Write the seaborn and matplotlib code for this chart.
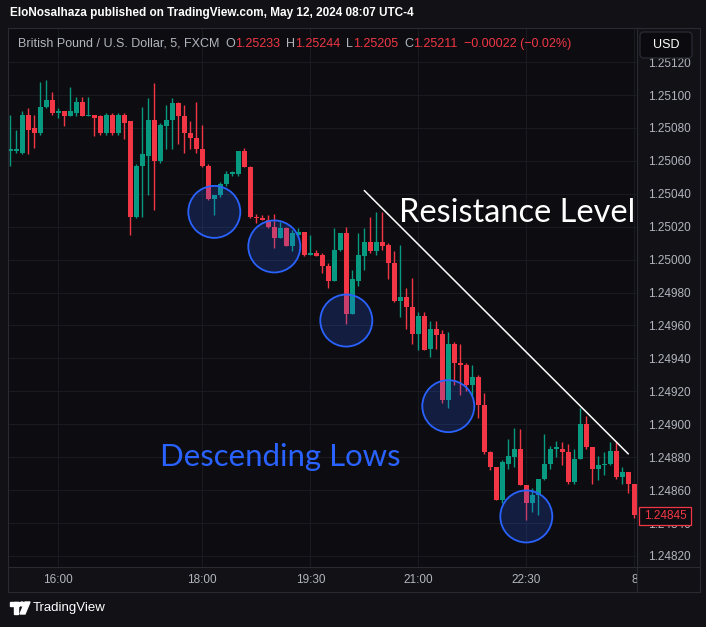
import numpy as np
import pandas as pd
import matplotlib
matplotlib.use("Agg")
import matplotlib.pyplot as plt
import seaborn as sns
from matplotlib.patches import Ellipse, FancyBboxPatch, Rectangle, Polygon, Circle
from matplotlib.lines import Line2D
from matplotlib.transforms import IdentityTransform

# ---------------- data (GBP/USD, 5 min candles) ----------------
opens = [
    1.25066, 1.25066, 1.25065, 1.25088, 1.25080, 1.25077, 1.25093, 1.25097, 1.25089, 1.25090,
    1.25087, 1.25089, 1.25096, 1.25087, 1.25088, 1.25087, 1.25077, 1.25088, 1.25077, 1.25088,
    1.25084, 1.25026, 1.25057, 1.25063, 1.25085, 1.25060, 1.25081, 1.25085, 1.25095, 1.25087,
    1.25077, 1.25074, 1.25067, 1.25057, 1.25037, 1.25039, 1.25046, 1.25052, 1.25052, 1.25066,
    1.25056, 1.25026, 1.25025, 1.25024, 1.25020, 1.25013, 1.25019, 1.25008, 1.25015, 1.25017,
    1.25003, 1.25004, 1.25003, 1.24996, 1.24987, 1.25006, 1.25016, 1.24967, 1.24987, 1.25002,
    1.25011, 1.25005, 1.25011, 1.25009, 1.24998, 1.24975, 1.24977, 1.24971, 1.24955, 1.24966,
    1.24946, 1.24958, 1.24955, 1.24915, 1.24949, 1.24937, 1.24936, 1.24924, 1.24929, 1.24912,
    1.24883, 1.24874, 1.24854, 1.24876, 1.24880, 1.24885, 1.24863, 1.24852, 1.24857, 1.24867,
    1.24876, 1.24885, 1.24885, 1.24883, 1.24865, 1.24879, 1.24900, 1.24886, 1.24873, 1.24875,
    1.24876, 1.24884, 1.24868, 1.24871, 1.24864]
highs = [
    1.25088, 1.25079, 1.25090, 1.25092, 1.25088, 1.25108, 1.25109, 1.25102, 1.25092, 1.25090,
    1.25105, 1.25099, 1.25099, 1.25099, 1.25088, 1.25088, 1.25089, 1.25089, 1.25089, 1.25089,
    1.25084, 1.25058, 1.25093, 1.25098, 1.25107, 1.25083, 1.25094, 1.25098, 1.25096, 1.25094,
    1.25084, 1.25096, 1.25082, 1.25058, 1.25039, 1.25047, 1.25054, 1.25054, 1.25066, 1.25068,
    1.25057, 1.25028, 1.25027, 1.25027, 1.25028, 1.25023, 1.25020, 1.25018, 1.25019, 1.25017,
    1.25015, 1.25006, 1.25004, 1.24998, 1.25019, 1.25016, 1.25020, 1.24994, 1.25016, 1.25019,
    1.25026, 1.25029, 1.25029, 1.25010, 1.25005, 1.25009, 1.24983, 1.24989, 1.24968, 1.24968,
    1.24963, 1.24963, 1.24957, 1.24956, 1.24950, 1.24949, 1.24937, 1.24936, 1.24930, 1.24919,
    1.24884, 1.24874, 1.24878, 1.24891, 1.24898, 1.24897, 1.24863, 1.24861, 1.24867, 1.24894,
    1.24887, 1.24890, 1.24889, 1.24888, 1.24885, 1.24910, 1.24905, 1.24886, 1.24881, 1.24883,
    1.24889, 1.24889, 1.24874, 1.24871, 1.24864]
lows = [
    1.25057, 1.25065, 1.25064, 1.25064, 1.25068, 1.25076, 1.25092, 1.25088, 1.25086, 1.25081,
    1.25087, 1.25087, 1.25087, 1.25087, 1.25075, 1.25076, 1.25076, 1.25076, 1.25076, 1.25073,
    1.25015, 1.25025, 1.25026, 1.25039, 1.25030, 1.25059, 1.25067, 1.25067, 1.25070, 1.25065,
    1.25067, 1.25065, 1.25056, 1.25036, 1.25027, 1.25038, 1.25045, 1.25051, 1.25051, 1.25056,
    1.25025, 1.25022, 1.25024, 1.25019, 1.25007, 1.25013, 1.25008, 1.25005, 1.25014, 1.25002,
    1.25003, 1.25002, 1.24992, 1.24983, 1.24987, 1.25005, 1.24961, 1.24967, 1.24984, 1.24994,
    1.25004, 1.25003, 1.25006, 1.24988, 1.24974, 1.24965, 1.24958, 1.24949, 1.24945, 1.24945,
    1.24941, 1.24946, 1.24913, 1.24910, 1.24924, 1.24918, 1.24920, 1.24917, 1.24904, 1.24882,
    1.24872, 1.24854, 1.24852, 1.24873, 1.24874, 1.24863, 1.24842, 1.24847, 1.24845, 1.24866,
    1.24873, 1.24880, 1.24875, 1.24864, 1.24864, 1.24879, 1.24885, 1.24864, 1.24866, 1.24869,
    1.24875, 1.24867, 1.24864, 1.24858, 1.24843]
closes = [
    1.25067, 1.25067, 1.25088, 1.25079, 1.25077, 1.25093, 1.25097, 1.25089, 1.25090, 1.25087,
    1.25090, 1.25096, 1.25087, 1.25088, 1.25086, 1.25077, 1.25088, 1.25077, 1.25088, 1.25083,
    1.25026, 1.25057, 1.25064, 1.25085, 1.25060, 1.25082, 1.25085, 1.25095, 1.25087, 1.25077,
    1.25074, 1.25067, 1.25057, 1.25037, 1.25039, 1.25046, 1.25052, 1.25053, 1.25066, 1.25056,
    1.25026, 1.25025, 1.25024, 1.25020, 1.25013, 1.25019, 1.25008, 1.25016, 1.25017, 1.25003,
    1.25004, 1.25002, 1.24996, 1.24987, 1.25006, 1.25016, 1.24967, 1.24988, 1.25003, 1.25011,
    1.25005, 1.25011, 1.25008, 1.24998, 1.24975, 1.24977, 1.24971, 1.24955, 1.24966, 1.24945,
    1.24958, 1.24954, 1.24915, 1.24949, 1.24937, 1.24936, 1.24924, 1.24929, 1.24912, 1.24883,
    1.24874, 1.24854, 1.24877, 1.24881, 1.24885, 1.24863, 1.24852, 1.24857, 1.24867, 1.24876,
    1.24885, 1.24886, 1.24883, 1.24865, 1.24879, 1.24900, 1.24886, 1.24873, 1.24875, 1.24876,
    1.24884, 1.24868, 1.24871, 1.24864, 1.24845]

times = pd.date_range("2024-05-07 15:20", periods=len(opens), freq="5min")
x_tick_times = ["2024-05-07 16:00", "2024-05-07 18:00", "2024-05-07 19:30",
                "2024-05-07 21:00", "2024-05-07 22:30", "2024-05-08 00:00"]
x_tick_labels = ["16:00", "18:00", "19:30", "21:00", "22:30", "8"]
y_ticks = [1.24820, 1.24840, 1.24860, 1.24880, 1.24900, 1.24920, 1.24940, 1.24960,
           1.24980, 1.25000, 1.25020, 1.25040, 1.25060, 1.25080, 1.25100, 1.25120]
last_price = 1.24845

# annotations
low_circle_time = ["2024-05-07 18:10", "2024-05-07 19:00", "2024-05-07 20:00",
                   "2024-05-07 21:25", "2024-05-07 22:30"]
low_circle_price = [1.25029, 1.25008, 1.24963, 1.24911, 1.24844]
resist_time = ["2024-05-07 20:15", "2024-05-07 23:55"]
resist_price = [1.25042, 1.24882]

# ---------------- style ----------------
BG_OUT = "#111116"
BG = "#0d0d11"
GRID = "#1a1a21"
FRAME = "#2a2a33"
TXT = "#b2b5be"
GREEN = "#089981"
RED = "#f23645"
BLUE = "#2962ff"

sns.set_theme(style="dark", rc={"axes.facecolor": BG, "figure.facecolor": BG_OUT,
                                "grid.color": GRID, "axes.grid": True,
                                "grid.linewidth": 0.8})
plt.rcParams["font.family"] = ["Liberation Sans", "DejaVu Sans"]

W, H = 706, 627
fig = plt.figure(figsize=(W / 100, H / 100), dpi=100)
fig.patch.set_facecolor(BG_OUT)

L, R, T, B = 8, 637, 28, 567
ax = fig.add_axes([L / W, (H - B) / H, (R - L) / W, (B - T) / H])
ax.set_facecolor(BG)

df = pd.DataFrame({"time": times, "open": opens, "high": highs,
                   "low": lows, "close": closes})
df["i"] = np.arange(len(df))
df["up"] = df["close"] >= df["open"]
df["color"] = np.where(df["up"], GREEN, RED)
df["bottom"] = df[["open", "close"]].min(axis=1)
df["height"] = (df["close"] - df["open"]).abs().clip(lower=0.0000065)

def t2i(t):
    return (pd.Timestamp(t) - times[0]) / pd.Timedelta("5min")

# wicks and bodies
ax.vlines(df["i"], df["low"], df["high"], colors=df["color"], linewidth=1.0, zorder=2)
ax.bar(df["i"], df["height"], bottom=df["bottom"], width=0.8,
       color=df["color"], linewidth=0, zorder=3)

x0 = (L - 10.3) / 6.0
x1 = (R - 10.3) / 6.0
ax.set_xlim(x0, x1)
ax.set_ylim(1.248133, 1.251407)

ax.set_xticks([t2i(t) for t in x_tick_times])
ax.set_xticklabels(x_tick_labels)
ax.set_yticks(y_ticks)
ax.set_yticklabels([f"{v:.5f}" for v in y_ticks])
ax.yaxis.tick_right()
ax.tick_params(axis="y", length=0, pad=8, labelsize=8.5, colors=TXT)
ax.tick_params(axis="x", length=0, pad=5, labelsize=8.5, colors=TXT)
ax.grid(True, color=GRID, linewidth=0.8)
for s in ax.spines.values():
    s.set_visible(False)

# resistance line
sns.lineplot(x=[t2i(t) for t in resist_time], y=resist_price, ax=ax,
             color="white", linewidth=1.1, zorder=4)

# circles around the lows (circular in pixel space)
px_x = (x1 - x0) / (R - L)
px_y = (1.251407 - 1.248133) / (B - T)
rad = 26
for t, p in zip(low_circle_time, low_circle_price):
    ax.add_patch(Ellipse((t2i(t), p), 2 * rad * px_x, 2 * rad * px_y,
                         facecolor=(0.16, 0.38, 1.0, 0.2), edgecolor=BLUE,
                         linewidth=1.3, zorder=5))

def fx(x):
    return x / W

def fy(y):
    return 1 - y / H

# big annotation texts
fig.text(fx(399), fy(213), "Resistance Level", color="white", fontsize=23.4,
         family=["Lato", "DejaVu Sans"], ha="left", va="center")
fig.text(fx(160), fy(457), "Descending Lows", color=BLUE, fontsize=22.4,
         family=["Lato", "DejaVu Sans"], ha="left", va="center")

# frame lines
frame = [
    Line2D([fx(L), fx(700)], [fy(T), fy(T)]),
    Line2D([fx(L), fx(700)], [fy(592), fy(592)]),
    Line2D([fx(L), fx(L)], [fy(T), fy(592)]),
    Line2D([fx(700), fx(700)], [fy(T), fy(592)]),
    Line2D([fx(R), fx(R)], [fy(T), fy(592)]),
    Line2D([fx(L), fx(700)], [fy(B), fy(B)]),
]
for ln in frame:
    ln.set_color(FRAME)
    ln.set_linewidth(0.8)
    fig.add_artist(ln)

# title line
fig.text(fx(10), fy(13), "EloNosalhaza published on TradingView.com, May 12, 2024 08:07 UTC-4",
         color="white", fontsize=8.5, fontweight="bold",
         ha="left", va="center")

# header legend pieces
fig.canvas.draw()
rend = fig.canvas.get_renderer()
pieces = [("British Pound / U.S. Dollar, 5, FXCM", TXT, 6),
          ("O", TXT, 0), ("1.25233", RED, 6),
          ("H", TXT, 0), ("1.25244", RED, 6),
          ("L", TXT, 0), ("1.25205", RED, 6),
          ("C", TXT, 0), ("1.25211", RED, 6),
          ("\u22120.00022 (\u22120.02%)", RED, 0)]
xpos = 18
for s, c, gap in pieces:
    t = fig.text(fx(xpos), fy(44), s, color=c, fontsize=9, ha="left", va="center")
    bb = t.get_window_extent(renderer=rend)
    xpos = bb.x1 + gap

# USD button
usd = FancyBboxPatch((640, H - 58), 52, 26, boxstyle="round,pad=0,rounding_size=4",
                     transform=IdentityTransform(), facecolor="#0b0b0f",
                     edgecolor=FRAME, linewidth=0.9, zorder=10)
fig.add_artist(usd)
fig.text(fx(666), fy(45), "USD", color="white", fontsize=9, ha="center",
         va="center", zorder=11)

# last price label
lp = Rectangle((639, H - 525), 52, 18, transform=IdentityTransform(),
               facecolor=BG, edgecolor=RED, linewidth=0.9, zorder=10)
fig.add_artist(lp)
fig.text(fx(665), fy(516), f"{last_price:.5f}", color=RED, fontsize=8.5,
         ha="center", va="center", zorder=11)

# TradingView logo
logo = [
    Rectangle((10, H - 606), 9, 4, transform=IdentityTransform(), color="white"),
    Rectangle((14, H - 614), 4, 12, transform=IdentityTransform(), color="white"),
    Circle((22, H - 604), 2, transform=IdentityTransform(), color="white"),
    Polygon([(25, H - 602), (30, H - 602), (25, H - 614), (20, H - 614)],
            closed=True, transform=IdentityTransform(), color="white"),
]
for p in logo:
    fig.add_artist(p)
fig.text(fx(33), fy(608), "TradingView", color="white", fontsize=9.5,
         ha="left", va="center")

fig.savefig("out.png", dpi=100, facecolor=fig.get_facecolor())
